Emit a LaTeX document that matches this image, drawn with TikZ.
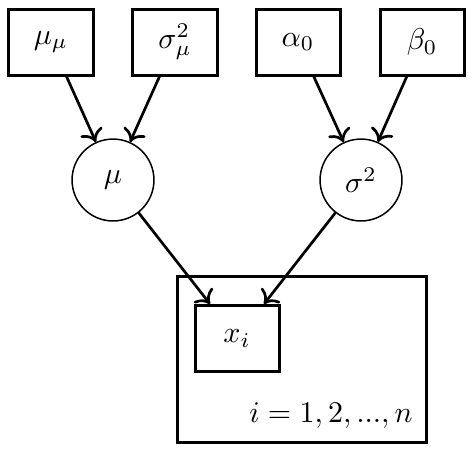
\documentclass[tikz,border=0pt]{standalone}
\usetikzlibrary{arrows.meta}
\begin{document}
\begin{tikzpicture}[x=0.3333pt,y=-0.3333pt,
  param/.style={draw,line width=1pt,minimum width=28pt,minimum height=22pt,inner sep=0pt},
  latent/.style={draw,circle,line width=0.5pt,minimum size=27.3pt,inner sep=0pt},
  edge/.style={line width=0.9pt,-{To[length=4pt,width=8pt,line width=0.9pt]}}]
\useasboundingbox (0,0) rectangle (474,451);
\node[param] (mm) at (51,42) {$\mu_\mu$};
\node[param] (sm) at (175,42) {$\sigma^2_\mu$};
\node[param] (a0) at (298,42) {$\alpha_0$};
\node[param] (b0) at (422,42) {$\beta_0$};
\node[latent] (mu) at (113,180) {$\mu$};
\node[latent] (s2) at (361,180) {$\sigma^2$};
\node[draw,line width=1pt,minimum width=249*0.3333pt,minimum height=166*0.3333pt,inner sep=0pt] (plate) at (301.5,359) {};
\node[param] (xi) at (237,338.5) {$x_i$};
\node[anchor=base] (lbl) at (331,422) {$i=1,2,...,n$};
\draw[edge] (mm) -- (mu);
\draw[edge] (sm) -- (mu);
\draw[edge] (a0) -- (s2);
\draw[edge] (b0) -- (s2);
\draw[edge] (mu) -- (xi);
\draw[edge] (s2) -- (xi);
\end{tikzpicture}
\end{document}
